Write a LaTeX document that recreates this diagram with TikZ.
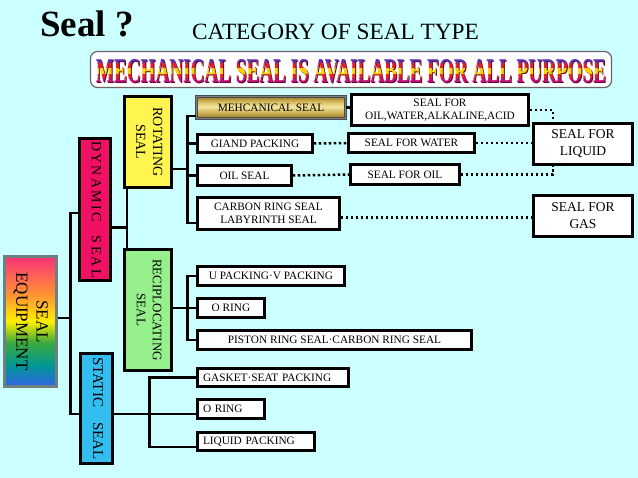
\documentclass[tikz,border=0pt]{standalone}
\usepackage{fontspec}
\setmainfont{Liberation Serif}
\usepackage{graphicx}

\definecolor{bgcyan}{RGB}{204,255,255}
\definecolor{dynred}{RGB}{240,16,100}
\definecolor{statblue}{RGB}{51,190,240}
\definecolor{rotyellow}{RGB}{255,245,80}
\definecolor{recgreen}{RGB}{150,240,140}
\definecolor{equipgray}{RGB}{110,128,128}
\definecolor{rbblue}{RGB}{50,100,230}
\definecolor{rbteal}{RGB}{0,150,150}
\definecolor{rbgreen}{RGB}{60,170,60}
\definecolor{rbyellow}{RGB}{255,240,0}
\definecolor{rborange}{RGB}{255,150,50}
\definecolor{rbpink}{RGB}{250,50,120}
\definecolor{golddark}{RGB}{150,118,36}
\definecolor{goldmid}{RGB}{212,184,90}
\definecolor{goldlight}{RGB}{244,230,160}
\definecolor{bandpurple}{RGB}{96,48,176}
\definecolor{bandred}{RGB}{232,32,42}
\definecolor{bandyellow}{RGB}{250,210,0}
\definecolor{bandmagenta}{RGB}{196,16,122}
\definecolor{bandshadow}{RGB}{90,10,40}

\pgfdeclareverticalshading{rainbowv}{100bp}{color(0bp)=(rbblue); color(25bp)=(rbblue);
  color(33bp)=(rbteal); color(42bp)=(rbgreen); color(50bp)=(rbyellow);
  color(60bp)=(rborange); color(75bp)=(rbpink); color(100bp)=(rbpink)}
\pgfdeclareverticalshading{goldv}{100bp}{color(0bp)=(golddark); color(25bp)=(golddark);
  color(40bp)=(goldmid); color(52bp)=(goldlight); color(64bp)=(goldmid);
  color(75bp)=(golddark); color(100bp)=(golddark)}

\newcommand{\bannertext}{\resizebox{510pt}{23pt}{\bfseries MECHANICAL SEAL IS AVAILABLE FOR ALL PURPOSE}}
\newcommand{\sidetext}[1]{\rotatebox{-90}{\begin{tabular}{@{}c@{}}#1\end{tabular}}}

\tikzset{
  box/.style={draw, line width=2.5pt, fill=white, inner sep=2pt, align=center,
    font=\fontsize{11.3}{12.5}\selectfont},
  bigbox/.style={draw, line width=2.5pt, inner sep=0pt, align=center,
    font=\fontsize{13.5}{17}\selectfont},
  sidebox/.style={draw, line width=2.5pt, inner sep=0pt},
  wire/.style={line width=2.5pt},
  dots/.style={line width=2.5pt, dash pattern=on 2.5pt off 2.5pt},
}

\begin{document}
\begin{tikzpicture}[x=1pt, y=-1pt]

  \fill[bgcyan] (0,0) rectangle (638,478);
  \useasboundingbox (0,0) rectangle (638,478);

  % heading
  \node[anchor=base west, inner sep=0pt, font=\fontsize{37}{42}\selectfont\bfseries] (title) at (40,37) {Seal ?};
  \node[anchor=base west, inner sep=0pt, font=\fontsize{23.3}{27}\selectfont] (category) at (192,40) {CATEGORY OF SEAL TYPE};

  % banner
  \node[draw=gray!80!black, line width=1.2pt, fill=white, rounded corners=7pt,
    minimum width=521pt, minimum height=36pt] (banner) at (351,69.5) {};
  \node[anchor=base, inner sep=0pt, text=bandshadow] (bannershadow) at (352,84) {\bannertext};
  \foreach \bandcol/\ya/\yb [count=\k] in {bandpurple/52/64, bandred/64/69, bandyellow/69/75,
      bandred/75/79, bandmagenta/79/90} {
    \begin{scope}
      \clip (90,\ya) rectangle (612,\yb);
      \node[anchor=base, inner sep=0pt, text=\bandcol] (bannertext\k) at (351,83) {\bannertext};
    \end{scope}
  }

  % left column
  \node[sidebox, draw=equipgray, line width=3pt, shading=rainbowv, minimum width=52pt, minimum height=130pt,
    font=\fontsize{17}{20}\selectfont] (equip) at (30.5,321.5) {\sidetext{SEAL\\EQUIPMENT}};
  \node[sidebox, fill=dynred, minimum width=31pt, minimum height=142pt,
    font=\fontsize{14}{16}\selectfont] (dynamic) at (95,209.5) {\sidetext{D\,Y\,N\,A\,M\,I\,C\quad S\,E\,A\,L}};
  \node[sidebox, fill=statblue, minimum width=32pt, minimum height=110pt,
    font=\fontsize{15}{17}\selectfont] (static) at (96.5,408.5) {\sidetext{STATIC\quad SEAL}};
  \node[sidebox, fill=rotyellow, minimum width=47pt, minimum height=91pt,
    font=\fontsize{14}{17}\selectfont] (rotating) at (148,142) {\sidetext{ROTATING\\SEAL}};
  \node[sidebox, fill=recgreen, minimum width=47pt, minimum height=121pt,
    font=\fontsize{13}{16}\selectfont] (recip) at (148,310) {\sidetext{RECIPLOCATING\\SEAL}};

  % rotating seals
  \node[box, draw=gray!60!black, double=gray, double distance=1pt, line width=1.2pt, shading=goldv,
    minimum width=149pt, minimum height=22pt] (mech) at (271,107.5) {MEHCANICAL SEAL};
  \node[box, minimum width=177pt, minimum height=31pt] (oilwater) at (440,110) {SEAL FOR\\OIL,WATER,ALKALINE,ACID};
  \node[box, minimum width=115pt, minimum height=18pt] (giand) at (255,143.5) {GIAND PACKING};
  \node[box, minimum width=126pt, minimum height=19pt] (water) at (411.5,143) {SEAL FOR WATER};
  \node[box, minimum width=94pt, minimum height=20pt] (oilseal) at (244.5,175.5) {OIL SEAL};
  \node[box, minimum width=109pt, minimum height=20pt] (oilfor) at (405,174.5) {SEAL FOR OIL};
  \node[box, minimum width=142pt, minimum height=32pt] (carbon) at (268.5,213.5) {CARBON RING SEAL\\LABYRINTH SEAL};
  \node[bigbox, fill=white, minimum width=99pt, minimum height=41pt] (liquid) at (583,144) {SEAL FOR\\LIQUID};
  \node[bigbox, fill=white, minimum width=99pt, minimum height=41pt] (gas) at (583,216) {SEAL FOR\\GAS};

  % reciplocating seals
  \node[box, minimum width=147pt, minimum height=19pt] (upack) at (271,276) {U PACKING·V PACKING};
  \node[box, minimum width=67pt, minimum height=19pt] (oring1) at (231,308) {O RING};
  \node[box, minimum width=274pt, minimum height=19pt] (piston) at (334.5,340) {PISTON RING SEAL·CARBON RING SEAL};

  % static seals
  \node[box, minimum width=151pt, minimum height=18pt, text width=140pt, align=left] (gasket) at (273,377.5) {GASKET·SEAT PACKING};
  \node[box, minimum width=67pt, minimum height=19pt, text width=56pt, align=left] (oring2) at (231,409) {O RING};
  \node[box, minimum width=117pt, minimum height=18pt, text width=106pt, align=left] (liquidp) at (256,441.5) {LIQUID PACKING};

  % tree
  \draw[wire] ([yshift=3.5pt]equip.east) -- ++(12.5,0) coordinate (ebus);
  \draw[wire] (ebus) |- ([yshift=-3.5pt]dynamic.west);
  \draw[wire] (ebus) |- ([yshift=-5.5pt]static.west);

  \draw[wire] ([xshift=3.5pt]rotating.south west) -- ([xshift=3.5pt]recip.north west) coordinate[pos=0.65] (dbus);
  \draw[wire] (dbus) -- (dbus -| dynamic.east);

  \draw[wire] ([yshift=-27pt]rotating.east) -- ++(14.5,0) coordinate (rbus);
  \draw[wire] (rbus) |- ([yshift=-8.5pt]mech.west);
  \draw[wire] (rbus) |- (giand.west);
  \draw[wire] (rbus) |- (oilseal.west);
  \draw[wire] (rbus) |- ([yshift=-9.5pt]carbon.west);

  \draw[wire] ([yshift=2pt]recip.east) -- ++(14.5,0) coordinate (cbus);
  \draw[wire] (cbus) |- (upack.west);
  \draw[wire] (cbus) |- (oring1.west);
  \draw[wire] (cbus) |- (piston.west);

  \draw[wire] ([yshift=-5.5pt]static.east) -- ++(35.5,0) coordinate (sbus) -- (sbus -| oring2.west);
  \draw[wire] (gasket.west) -| (sbus) |- ([yshift=-5.5pt]liquidp.west);

  % uses
  \draw[wire] (mech.east) -- (mech.east -| oilwater.west);
  \draw[dots] (giand.east) -- (water.west);
  \draw[dots] (water.east) -- (water.east -| liquid.west);
  \draw[dots] (oilseal.east) -- (oilfor.west);
  \draw[dots] (oilfor.east) -| ([xshift=-30pt]liquid.south);
  \draw[dots] (oilwater.east) -| ([xshift=-30pt]liquid.north);
  \draw[dots] ([yshift=-4pt]carbon.east) -- ([yshift=-4pt]carbon.east -| gas.west);

\end{tikzpicture}
\end{document}
